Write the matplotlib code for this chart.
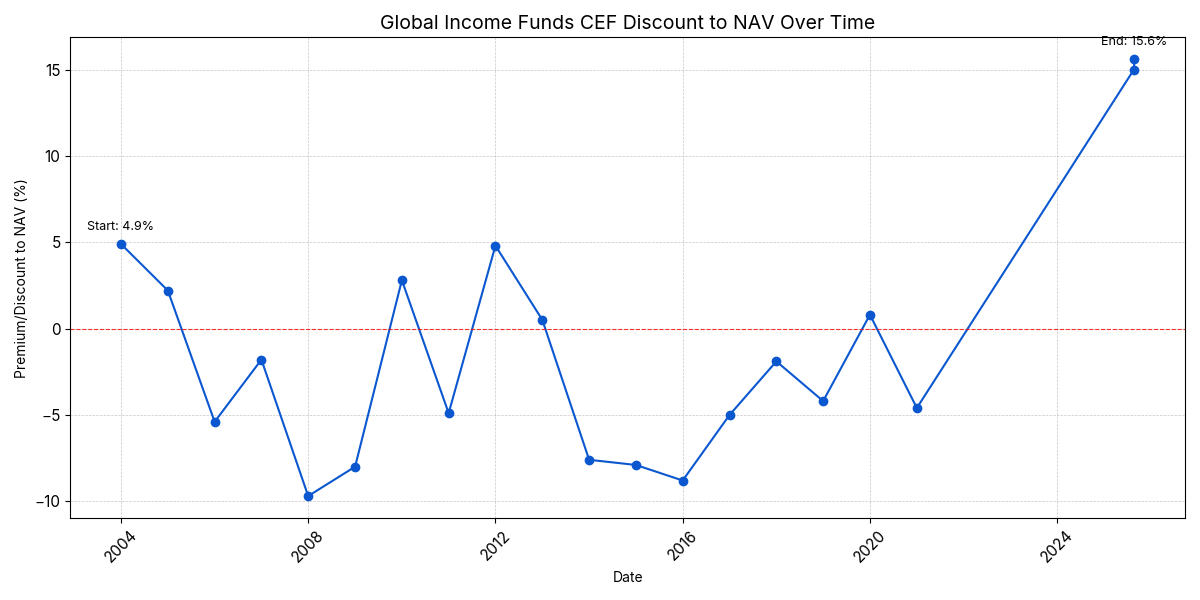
import matplotlib
matplotlib.use("Agg")
import matplotlib.pyplot as plt
import pandas as pd

plt.rcParams['font.family'] = ['Inter', 'DejaVu Sans']

dates = ["2004-01-01", "2005-01-01", "2006-01-01", "2007-01-01", "2008-01-01",
         "2009-01-01", "2010-01-01", "2011-01-01", "2012-01-01", "2013-01-01",
         "2014-01-01", "2015-01-01", "2016-01-01", "2017-01-01", "2018-01-01",
         "2019-01-01", "2020-01-01", "2021-01-01", "2025-08-22", "2025-08-25"]
values = [4.9, 2.2, -5.4, -1.8, -9.7, -8.0, 2.8, -4.9, 4.8, 0.5,
          -7.6, -7.9, -8.8, -5.0, -1.9, -4.2, 0.8, -4.6, 15.0, 15.6]

x = pd.to_datetime(dates)

fig, ax = plt.subplots(figsize=(12, 6), dpi=100)
ax.plot(x, values, marker='o', color='#0b57d0', linewidth=1.5, markersize=6)
ax.axhline(0, color='red', linestyle='--', linewidth=0.8, alpha=0.8)

ax.annotate(f"Start: {values[0]:.1f}%", (x[0], values[0]), xytext=(0, 10),
            textcoords='offset points', ha='center', fontsize=9)
ax.annotate(f"End: {values[-1]:.1f}%", (x[-1], values[-1]), xytext=(0, 10),
            textcoords='offset points', ha='center', fontsize=9)

ax.set_title("Global Income Funds CEF Discount to NAV Over Time", fontsize=14)
ax.set_xlabel("Date")
ax.set_ylabel("Premium/Discount to NAV (%)")
ax.tick_params(axis='both', labelsize=11)
ax.grid(True, linestyle='--', linewidth=0.5, alpha=0.7)
plt.setp(ax.get_xticklabels(), rotation=45)
plt.tight_layout()
fig.savefig("out.png")
